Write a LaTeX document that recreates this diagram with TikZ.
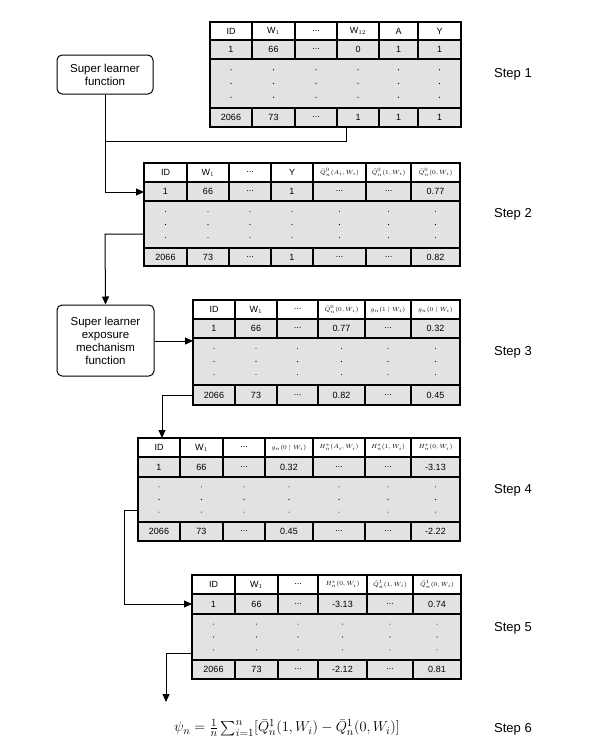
\documentclass[tikz,border=0pt]{standalone}
\usepackage{fontspec}
\setmainfont{Liberation Sans}
\usepackage{amsmath}
\usetikzlibrary{arrows.meta}
\definecolor{cellgray}{HTML}{E2E2E2}
\newcommand\dd{...}
\tikzset{
  tb/.style={draw=black,line width=1.1pt},
  conn/.style={draw=black,line width=1pt},
  arr/.style={conn,-{Triangle[length=8pt,width=7pt]}},
  box/.style={draw=black,line width=1pt,rounded corners=5pt,fill=white,align=center,font=\fontsize{11.5}{13}\selectfont},
  steplbl/.style={font=\fontsize{13}{15}\selectfont},
  cell/.style={font=\fontsize{9}{10}\selectfont,inner sep=0pt},
}
% #1 top, #2 header bottom, #3 row1 bottom, #4 last top, #5 bottom, #6 xmin, #7 xmax, #8 columns
\newcommand\mytab[8]{%
  \foreach \a/\b/\h/\r/\l in {#8}{
    \draw[tb,fill=white] (\a,#1) rectangle (\b,#2);
    \node[cell] at ({(\a+\b)/2},{(#1+#2)/2}) {\h};
    \draw[tb,fill=cellgray] (\a,#2) rectangle (\b,#3);
    \node[cell] at ({(\a+\b)/2},{(#2+#3)/2}) {\r};
    \fill[cellgray] (\a,#3) rectangle (\b,#4);
    \foreach \k in {0.22,0.5,0.78}{
      \fill ({(\a+\b)/2},{#3+(#4-#3)*\k}) circle (0.55pt);
    }
    \draw[tb,fill=cellgray] (\a,#4) rectangle (\b,#5);
    \node[cell] at ({(\a+\b)/2},{(#4+#5)/2}) {\l};
  }
  \draw[tb] (#6,#3) rectangle (#7,#4);
  \draw[tb] (#6,#1) rectangle (#7,#5);
}
\newcommand\hm[1]{{\fontsize{6.5}{7}\selectfont$#1$}}
\begin{document}
\begin{tikzpicture}[x=1pt,y=-1pt]
\useasboundingbox[fill=white] (0,0) rectangle (600,756);

% Table 1
\mytab{22}{40}{59}{108}{127}{210}{461}{
 210/252/ID/1/2066, 252/295/W$_1$/66/73, 295/337/\dd/\dd/\dd, 337/379/W$_{12}$/0/1, 379/418/A/1/1, 418/461/Y/1/1}
\coordinate (t1b) at (346,127);
\coordinate (j1) at (346,141);
\coordinate (j1l) at (105,141);

% Table 2
\mytab{163}{182}{201}{248}{266}{144}{460}{
 144/187/ID/1/2066, 187/229/W$_1$/66/73, 229/271/\dd/\dd/\dd, 271/313/Y/1/1,
 313/366/{\hm{\bar{Q}_n^0(A_i,W_i)}}/\dd/\dd, 366/411/{\hm{\bar{Q}_n^0(1,W_i)}}/\dd/\dd,
 411/460/{\hm{\bar{Q}_n^0(0,W_i)}}/0.77/0.82}
\coordinate (t2in) at (144,192);
\coordinate (t2out) at (144,234);
\coordinate (c2) at (105,234);

% Table 3
\mytab{300}{319}{338}{385}{405}{193}{460}{
 193/235/ID/1/2066, 235/277/W$_1$/66/73, 277/318/\dd/\dd/\dd,
 318/365/{\hm{\bar{Q}_n^0(0,W_i)}}/0.77/0.82,
 365/411/{\hm{g_n(1\mid W_i)}}/\dd/\dd,
 411/460/{\hm{g_n(0\mid W_i)}}/0.32/0.45}
\coordinate (t3in) at (193,341);
\coordinate (t3out) at (193,395);
\coordinate (c3) at (162,395);

% Table 4
\mytab{438}{457}{477}{522}{541}{138}{460}{
 138/180/ID/1/2066, 180/223/W$_1$/66/73, 223/265/\dd/\dd/\dd,
 265/313/{\hm{g_n(0\mid W_i)}}/0.32/0.45,
 313/365/{\hm{H_n^{*}(A_i,W_i)}}/\dd/\dd,
 365/411/{\hm{H_n^{*}(1,W_i)}}/\dd/\dd,
 411/460/{\hm{H_n^{*}(0,W_i)}}/-3.13/-2.22}
\coordinate (t4top) at (162,438);
\coordinate (t4out) at (138,510);
\coordinate (c4) at (124,510);

% Table 5
\mytab{575}{594}{614}{660}{679}{192}{461}{
 192/235/ID/1/2066, 235/278/W$_1$/66/73, 278/318/\dd/\dd/\dd,
 318/367/{\hm{H_n^{*}(0,W_i)}}/-3.13/-2.12,
 367/413/{\hm{\bar{Q}_n^1(1,W_i)}}/\dd/\dd,
 413/461/{\hm{\bar{Q}_n^1(0,W_i)}}/0.74/0.81}
\coordinate (t5in) at (192,604);
\coordinate (c4b) at (124,604);
\coordinate (t5out) at (192,653);
\coordinate (c5) at (166,653);
\coordinate (psitop) at (166,702);

% boxes
\node[box,minimum width=96pt,minimum height=39pt] (sl1) at (105,74.5) {Super learner\\function};
\node[box,minimum width=97pt,minimum height=71pt] (sl2) at (105.5,340.5) {Super learner\\exposure\\mechanism\\function};

% formula
\node[inner sep=0pt] (psi) at (287,728) {\fontsize{15}{18}\selectfont$\psi_n=\frac{1}{n}\sum_{i=1}^{n}[\bar{Q}_n^1(1,W_i)-\bar{Q}_n^1(0,W_i)]$};

% steps
\node[steplbl] (s1) at (513,74) {Step 1};
\node[steplbl] (s2) at (513,214) {Step 2};
\node[steplbl] (s3) at (513,352) {Step 3};
\node[steplbl] (s4) at (513,490) {Step 4};
\node[steplbl] (s5) at (513,628) {Step 5};
\node[steplbl] (s6) at (513,729) {Step 6};

% connectors
\draw[conn] (t1b) -- (j1) -- (j1l);
\draw[arr] (sl1.south) |- (t2in);
\draw[arr] (t2out) -- (c2) -- (sl2.north);
\draw[arr] (sl2.east |- t3in) -- (t3in);
\draw[arr] (t3out) -- (c3) -- (t4top);
\draw[arr] (t4out) -- (c4) -- (c4b) -- (t5in);
\draw[arr] (t5out) -- (c5) -- (psitop);
\end{tikzpicture}
\end{document}
